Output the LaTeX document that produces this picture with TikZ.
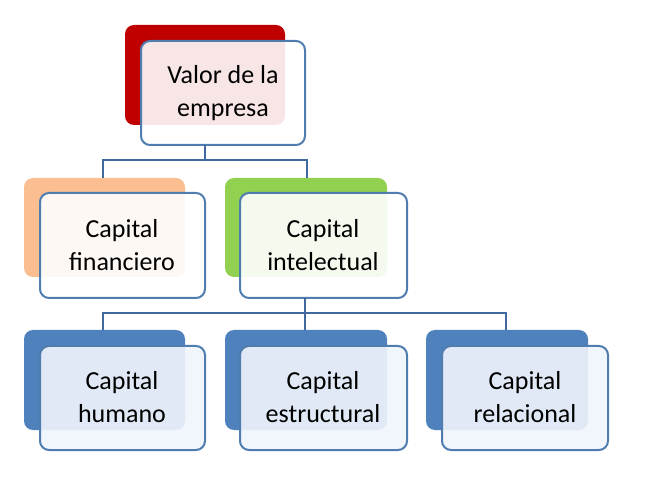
\documentclass[tikz,border=0pt]{standalone}
\usepackage{fontspec}
\setmainfont{Carlito}
\begin{document}
\begin{tikzpicture}[x=1pt,y=-1pt,
  back/.style={rounded corners=9pt},
  front/.style={draw={rgb,255:red,80;green,125;blue,175}, line width=2pt, rounded corners=9pt, fill opacity=0.9, draw opacity=1, text opacity=1, align=center, font=\fontsize{26}{33}\selectfont},
  conn/.style={draw={rgb,255:red,65;green,105;blue,160}, line width=2pt}]
\useasboundingbox (0,0) rectangle (646,489);
\definecolor{cred}{RGB}{192,0,0}
\definecolor{corange}{RGB}{250,190,145}
\definecolor{cgreen}{RGB}{146,208,80}
\definecolor{cblue}{RGB}{79,129,189}
% back boxes
\fill[back,cred] (125,25) rectangle (285,125);
\fill[back,corange] (24,178) rectangle (185,277);
\fill[back,cgreen] (225,178) rectangle (387,277);
\fill[back,cblue] (24,330) rectangle (185,430);
\fill[back,cblue] (225,330) rectangle (387,430);
\fill[back,cblue] (426,330) rectangle (588,430);
% front boxes
\path[front,fill=white] (141,41) rectangle (305,145);
\node[front,draw=none,fill=none] (t) at (223,93) {Valor de la\\empresa};
\path[front,fill=white] (40,193) rectangle (205,298);
\node (f) at (122,245) [front,draw=none,fill=none] {Capital\\financiero};
\path[front,fill=white] (240,193) rectangle (407,298);
\node (i) at (323,245) [front,draw=none,fill=none] {Capital\\intelectual};
\path[front,fill={rgb,255:red,240;green,245;blue,252}] (40,346) rectangle (205,450);
\node (h) at (122,397) [front,draw=none,fill=none] {Capital\\humano};
\path[front,fill={rgb,255:red,240;green,245;blue,252}] (240,346) rectangle (407,450);
\node (e) at (323,397) [front,draw=none,fill=none] {Capital\\estructural};
\path[front,fill={rgb,255:red,240;green,245;blue,252}] (442,346) rectangle (608,450);
\node (r) at (525,397) [front,draw=none,fill=none] {Capital\\relacional};
% connectors
\coordinate (a1) at (205,145);
\coordinate (a2) at (103,178);
\coordinate (a3) at (307,178);
\draw[conn] (a1) -- (205,160) -- (103,160) -- (a2);
\draw[conn] (205,160) -- (307,160) -- (a3);
\coordinate (b1) at (305,298);
\coordinate (b2) at (103,330);
\coordinate (b3) at (305,330);
\coordinate (b4) at (506,330);
\draw[conn] (b1) -- (b3);
\draw[conn] (b2) -- (103,313) -- (506,313) -- (b4);
\end{tikzpicture}
\end{document}
